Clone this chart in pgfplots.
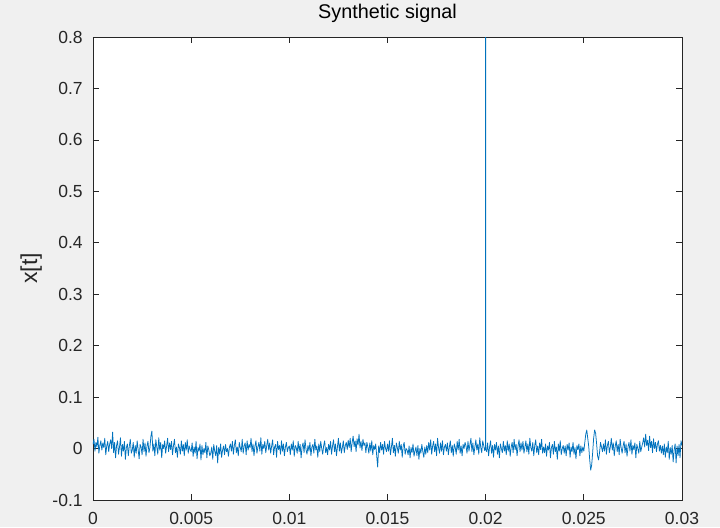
\documentclass[border=0pt]{standalone}
\usepackage{pgfplots}
\pgfplotsset{compat=1.18}
\usepackage{fontspec}
\setmainfont{Liberation Sans}
\definecolor{figbg}{RGB}{240,240,240}
\definecolor{axgray}{RGB}{38,38,38}
\definecolor{mblue}{RGB}{0,114,189}
\begin{document}
\begin{tikzpicture}
\fill[figbg] (0,0) rectangle (360pt,263.5pt);
\clip (0,0) rectangle (360pt,263.5pt);
\begin{axis}[
  at={(46.5pt,13.5pt)}, anchor=south west,
  width=294.5pt, height=231.5pt, scale only axis,
  axis background/.style={fill=white},
  xmin=0, xmax=0.03, ymin=-0.1, ymax=0.8,
  xtick={0,0.005,0.01,0.015,0.02,0.025,0.03},
  xticklabels={0,0.005,0.01,0.015,0.02,0.025,0.03},
  ytick={-0.1,0,0.1,0.2,0.3,0.4,0.5,0.6,0.7,0.8},
  yticklabels={-0.1,0,0.1,0.2,0.3,0.4,0.5,0.6,0.7,0.8},
  scaled x ticks=false, scaled y ticks=false,
  tick align=inside, major tick length=3pt,
  xtick pos=both, ytick pos=both,
  axis line style={axgray, line width=0.35pt},
  every tick/.style={axgray, line width=0.35pt},
  tick label style={font=\fontsize{8.75}{10}\selectfont, text=axgray, inner sep=0pt},
  xticklabel style={anchor=north, yshift=-5.8pt},
  yticklabel style={anchor=east, xshift=-5pt},
  title={Synthetic signal},
  title style={at={(0.5,1)}, anchor=base, yshift=3.5pt, font=\fontsize{9.9}{12}\selectfont, inner sep=0pt},
  ylabel={x[t]},
  ylabel style={at={(axis description cs:-0.105,0.5)}, anchor=center, font=\fontsize{11.5}{13}\selectfont, text=axgray, inner sep=0pt},
  clip=true,
]
\addplot[mblue, line width=0.38pt, line join=round] coordinates {
(0.00000,0.008)(0.00005,0.018)(0.00010,-0.005)(0.00015,0.012)(0.00020,0.003)(0.00025,0.022)(0.00030,-0.009)(0.00035,0.006)(0.00040,0.015)(0.00045,-0.003)(0.00050,0.011)(0.00055,0.002)(0.00060,0.020)(0.00065,-0.012)(0.00070,0.005)(0.00075,0.014)(0.00080,-0.006)(0.00085,0.009)(0.00090,0.017)(0.00095,0.000)
(0.00100,0.032)(0.00105,-0.008)(0.00110,0.012)(0.00115,-0.018)(0.00120,0.006)(0.00125,0.015)(0.00130,-0.011)(0.00135,0.003)(0.00140,0.021)(0.00145,-0.015)(0.00150,0.008)(0.00155,-0.005)(0.00160,0.014)(0.00165,-0.021)(0.00170,0.002)(0.00175,0.009)(0.00180,-0.014)(0.00185,0.005)(0.00190,0.018)(0.00195,-0.009)
(0.00200,-0.003)(0.00205,0.012)(0.00210,-0.017)(0.00215,0.006)(0.00220,-0.009)(0.00225,0.015)(0.00230,-0.002)(0.00235,-0.020)(0.00240,0.008)(0.00245,0.003)(0.00250,-0.012)(0.00255,0.018)(0.00260,-0.006)(0.00265,0.011)(0.00270,-0.015)(0.00275,0.005)(0.00280,0.014)(0.00285,-0.008)(0.00290,0.002)(0.00295,0.024)
(0.00300,0.034)(0.00305,-0.005)(0.00310,0.009)(0.00315,-0.014)(0.00320,0.017)(0.00325,0.003)(0.00330,-0.011)(0.00335,0.021)(0.00340,-0.003)(0.00345,0.012)(0.00350,-0.018)(0.00355,0.008)(0.00360,0.000)(0.00365,0.015)(0.00370,-0.009)(0.00375,0.005)(0.00380,0.020)(0.00385,-0.006)(0.00390,0.011)(0.00395,-0.002)
(0.00400,0.014)(0.00405,-0.012)(0.00410,0.006)(0.00415,0.018)(0.00420,-0.008)(0.00425,0.003)(0.00430,-0.017)(0.00435,0.009)(0.00440,0.002)(0.00445,-0.011)(0.00450,0.015)(0.00455,-0.005)(0.00460,0.008)(0.00465,-0.014)(0.00470,0.012)(0.00475,-0.003)(0.00480,0.017)(0.00485,-0.009)(0.00490,0.005)(0.00495,-0.002)
(0.00500,-0.006)(0.00505,0.011)(0.00510,-0.015)(0.00515,0.003)(0.00520,-0.009)(0.00525,0.014)(0.00530,-0.020)(0.00535,0.002)(0.00540,-0.005)(0.00545,0.009)(0.00550,-0.022)(0.00555,0.006)(0.00560,-0.012)(0.00565,0.000)(0.00570,-0.008)(0.00575,0.012)(0.00580,-0.018)(0.00585,0.005)(0.00590,-0.003)(0.00595,-0.014)
(0.00600,-0.009)(0.00605,0.003)(0.00610,-0.021)(0.00615,0.008)(0.00620,-0.005)(0.00625,-0.014)(0.00630,0.006)(0.00635,-0.028)(0.00640,0.002)(0.00645,-0.011)(0.00650,0.009)(0.00655,-0.017)(0.00660,-0.003)(0.00665,0.005)(0.00670,-0.012)(0.00675,0.008)(0.00680,-0.006)(0.00685,0.000)(0.00690,-0.015)(0.00695,0.003)
(0.00700,0.009)(0.00705,-0.005)(0.00710,0.014)(0.00715,-0.011)(0.00720,0.006)(0.00725,0.017)(0.00730,-0.008)(0.00735,0.003)(0.00740,-0.014)(0.00745,0.012)(0.00750,0.002)(0.00755,-0.006)(0.00760,0.018)(0.00765,-0.009)(0.00770,0.005)(0.00775,0.011)(0.00780,-0.012)(0.00785,0.015)(0.00790,-0.003)(0.00795,0.008)
(0.00800,0.002)(0.00805,0.020)(0.00810,-0.006)(0.00815,0.009)(0.00820,-0.014)(0.00825,0.005)(0.00830,0.015)(0.00835,-0.009)(0.00840,0.003)(0.00845,0.012)(0.00850,-0.005)(0.00855,0.021)(0.00860,-0.011)(0.00865,0.008)(0.00870,0.000)(0.00875,0.014)(0.00880,-0.008)(0.00885,0.006)(0.00890,0.018)(0.00895,-0.003)
(0.00900,0.011)(0.00905,-0.009)(0.00910,0.005)(0.00915,0.017)(0.00920,-0.012)(0.00925,0.003)(0.00930,0.008)(0.00935,-0.017)(0.00940,0.014)(0.00945,-0.002)(0.00950,0.006)(0.00955,-0.011)(0.00960,0.015)(0.00965,-0.005)(0.00970,0.009)(0.00975,-0.014)(0.00980,0.003)(0.00985,0.012)(0.00990,-0.006)(0.00995,0.002)
(0.01000,0.005)(0.01005,-0.012)(0.01010,0.009)(0.01015,-0.003)(0.01020,0.015)(0.01025,-0.015)(0.01030,0.006)(0.01035,0.002)(0.01040,-0.009)(0.01045,0.014)(0.01050,-0.006)(0.01055,0.008)(0.01060,-0.018)(0.01065,0.003)(0.01070,0.011)(0.01075,-0.008)(0.01080,0.017)(0.01085,-0.002)(0.01090,-0.011)(0.01095,0.006)
(0.01100,-0.005)(0.01105,0.012)(0.01110,-0.014)(0.01115,0.003)(0.01120,0.008)(0.01125,-0.009)(0.01130,0.018)(0.01135,-0.003)(0.01140,0.005)(0.01145,-0.017)(0.01150,0.009)(0.01155,-0.006)(0.01160,0.014)(0.01165,0.000)(0.01170,-0.011)(0.01175,0.006)(0.01180,0.015)(0.01185,-0.008)(0.01190,0.002)(0.01195,-0.012)
(0.01200,0.008)(0.01205,-0.003)(0.01210,0.014)(0.01215,-0.011)(0.01220,0.005)(0.01225,0.017)(0.01230,-0.006)(0.01235,0.009)(0.01240,-0.014)(0.01245,0.003)(0.01250,0.020)(0.01255,-0.005)(0.01260,0.011)(0.01265,-0.009)(0.01270,0.002)(0.01275,0.015)(0.01280,-0.008)(0.01285,0.006)(0.01290,0.012)(0.01295,-0.002)
(0.01300,0.016)(0.01305,0.002)(0.01310,0.020)(0.01315,-0.006)(0.01320,0.012)(0.01325,0.024)(0.01330,0.004)(0.01335,0.015)(0.01340,-0.006)(0.01345,0.019)(0.01350,0.007)(0.01355,0.028)(0.01360,0.001)(0.01365,0.014)(0.01370,-0.004)(0.01375,0.018)(0.01380,0.006)(0.01385,0.011)(0.01390,-0.008)(0.01395,0.012)
(0.01400,0.003)(0.01405,-0.009)(0.01410,0.011)(0.01415,-0.005)(0.01420,0.015)(0.01425,-0.012)(0.01430,0.006)(0.01435,-0.002)(0.01440,0.009)(0.01445,-0.014)(0.01450,-0.036)(0.01455,0.005)(0.01460,-0.008)(0.01465,0.012)(0.01470,-0.003)(0.01475,0.008)(0.01480,-0.011)(0.01485,0.014)(0.01490,0.000)(0.01495,-0.006)
(0.01500,0.009)(0.01505,-0.005)(0.01510,0.015)(0.01515,-0.012)(0.01520,0.003)(0.01525,0.020)(0.01530,-0.008)(0.01535,0.006)(0.01540,-0.015)(0.01545,0.011)(0.01550,0.002)(0.01555,-0.009)(0.01560,0.014)(0.01565,-0.003)(0.01570,0.008)(0.01575,-0.017)(0.01580,0.005)(0.01585,0.012)(0.01590,-0.011)(0.01595,0.000)
(0.01600,-0.003)(0.01605,-0.012)(0.01610,0.005)(0.01615,-0.018)(0.01620,0.002)(0.01625,-0.008)(0.01630,0.009)(0.01635,-0.015)(0.01640,-0.005)(0.01645,0.003)(0.01650,-0.014)(0.01655,0.006)(0.01660,-0.021)(0.01665,0.000)(0.01670,-0.009)(0.01675,0.008)(0.01680,-0.006)(0.01685,-0.017)(0.01690,0.003)(0.01695,-0.011)
(0.01700,0.006)(0.01705,-0.008)(0.01710,0.012)(0.01715,-0.003)(0.01720,0.017)(0.01725,-0.011)(0.01730,0.005)(0.01735,0.014)(0.01740,-0.006)(0.01745,0.009)(0.01750,-0.014)(0.01755,0.020)(0.01760,0.002)(0.01765,-0.009)(0.01770,0.011)(0.01775,-0.005)(0.01780,0.015)(0.01785,-0.012)(0.01790,0.003)(0.01795,0.008)
(0.01800,-0.005)(0.01805,0.011)(0.01810,-0.012)(0.01815,0.003)(0.01820,0.015)(0.01825,-0.008)(0.01830,0.006)(0.01835,-0.015)(0.01840,0.009)(0.01845,0.002)(0.01850,-0.011)(0.01855,0.014)(0.01860,-0.003)(0.01865,0.018)(0.01870,-0.009)(0.01875,0.005)(0.01880,-0.014)(0.01885,0.008)(0.01890,0.000)(0.01895,0.012)
(0.01900,0.005)(0.01905,-0.009)(0.01910,0.014)(0.01915,-0.005)(0.01920,0.008)(0.01925,0.020)(0.01930,-0.006)(0.01935,0.011)(0.01940,-0.012)(0.01945,0.003)(0.01950,0.017)(0.01955,-0.003)(0.01960,0.009)(0.01965,-0.011)(0.01970,0.021)(0.01975,0.002)(0.01980,-0.008)(0.01985,0.015)(0.01990,0.006)(0.01995,-0.004)
(0.01999,0.003)(0.02000,1.000)(0.02001,-0.002)
(0.02005,-0.006)(0.02010,0.011)(0.02015,-0.014)(0.02020,0.003)(0.02025,0.015)(0.02030,-0.009)(0.02035,0.006)(0.02040,-0.017)(0.02045,0.008)(0.02050,-0.003)(0.02055,0.012)(0.02060,-0.011)(0.02065,0.005)(0.02070,-0.018)(0.02075,0.009)(0.02080,0.000)(0.02085,-0.008)(0.02090,0.014)(0.02095,-0.005)
(0.02100,0.006)(0.02105,-0.012)(0.02110,0.015)(0.02115,-0.005)(0.02120,0.009)(0.02125,-0.015)(0.02130,0.003)(0.02135,0.012)(0.02140,-0.008)(0.02145,0.018)(0.02150,-0.002)(0.02155,0.008)(0.02160,-0.014)(0.02165,0.005)(0.02170,0.017)(0.02175,-0.006)(0.02180,0.011)(0.02185,-0.003)(0.02190,0.014)(0.02195,-0.009)
(0.02200,0.003)(0.02205,0.015)(0.02210,-0.006)(0.02215,0.009)(0.02220,-0.011)(0.02225,0.020)(0.02230,0.002)(0.02235,-0.005)(0.02240,0.012)(0.02245,-0.014)(0.02250,0.006)(0.02255,0.017)(0.02260,-0.008)(0.02265,0.005)(0.02270,-0.012)(0.02275,0.011)(0.02280,-0.002)(0.02285,0.018)(0.02290,-0.009)(0.02295,0.003)
(0.02300,-0.008)(0.02305,0.009)(0.02310,-0.015)(0.02315,0.005)(0.02320,-0.003)(0.02325,0.012)(0.02330,-0.018)(0.02335,0.002)(0.02340,0.008)(0.02345,-0.011)(0.02350,0.014)(0.02355,-0.006)(0.02360,0.003)(0.02365,-0.021)(0.02370,0.009)(0.02375,-0.005)(0.02380,0.015)(0.02385,-0.012)(0.02390,0.000)(0.02395,0.006)
(0.02400,-0.009)(0.02405,0.005)(0.02410,-0.014)(0.02415,0.008)(0.02420,-0.003)(0.02425,0.011)(0.02430,-0.017)(0.02435,0.003)(0.02440,-0.006)(0.02445,0.012)(0.02450,-0.011)(0.02455,0.002)(0.02460,-0.020)(0.02465,0.006)(0.02470,-0.002)(0.02475,0.009)(0.02480,-0.014)(0.02485,0.005)(0.02490,-0.008)(0.02495,0.003)
(0.02500,-0.005)(0.02505,0.012)(0.02510,0.028)(0.02515,0.036)(0.02520,0.020)(0.02525,0.004)(0.02530,-0.022)(0.02535,-0.042)(0.02540,-0.032)(0.02545,-0.008)(0.02550,0.020)(0.02555,0.036)(0.02560,0.030)(0.02565,0.010)(0.02570,-0.014)(0.02575,-0.022)(0.02580,-0.008)(0.02585,0.012)(0.02590,0.003)(0.02595,-0.006)
(0.02600,0.009)(0.02605,-0.005)(0.02610,0.017)(0.02615,-0.011)(0.02620,0.006)(0.02625,0.014)(0.02630,-0.008)(0.02635,0.003)(0.02640,0.020)(0.02645,-0.003)(0.02650,0.011)(0.02655,-0.014)(0.02660,0.005)(0.02665,0.015)(0.02670,-0.006)(0.02675,0.008)(0.02680,-0.012)(0.02685,0.018)(0.02690,0.002)(0.02695,-0.009)
(0.02700,0.005)(0.02705,0.014)(0.02710,-0.008)(0.02715,0.009)(0.02720,-0.015)(0.02725,0.003)(0.02730,0.012)(0.02735,-0.005)(0.02740,0.017)(0.02745,-0.011)(0.02750,0.006)(0.02755,-0.002)(0.02760,0.011)(0.02765,-0.018)(0.02770,0.008)(0.02775,0.000)(0.02780,-0.009)(0.02785,0.014)(0.02790,-0.006)(0.02795,0.003)
(0.02800,0.011)(0.02805,0.021)(0.02810,0.003)(0.02815,0.028)(0.02820,0.006)(0.02825,0.016)(0.02830,-0.004)(0.02835,0.024)(0.02840,0.002)(0.02845,0.014)(0.02850,-0.008)(0.02855,0.019)(0.02860,0.000)(0.02865,0.012)(0.02870,-0.006)(0.02875,0.009)(0.02880,0.015)(0.02885,-0.005)(0.02890,0.006)(0.02895,-0.009)
(0.02900,0.005)(0.02905,-0.012)(0.02910,0.009)(0.02915,-0.017)(0.02920,0.003)(0.02925,-0.008)(0.02930,0.014)(0.02935,-0.021)(0.02940,0.002)(0.02945,-0.011)(0.02950,0.006)(0.02955,-0.026)(0.02960,-0.003)(0.02965,0.009)(0.02970,-0.028)(0.02975,0.005)(0.02980,-0.014)(0.02985,0.008)(0.02990,-0.018)(0.02995,0.015)
(0.03000,0.006)
};
\end{axis}
\end{tikzpicture}
\end{document}
